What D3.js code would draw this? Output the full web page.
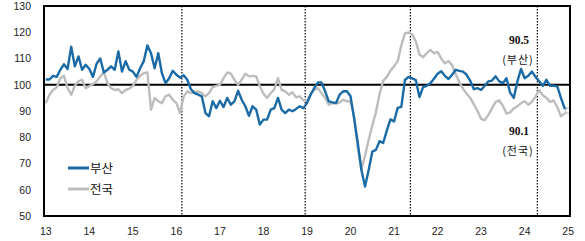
<!DOCTYPE html>
<html>
<head>
<meta charset="utf-8">
<script src="https://cdn.jsdelivr.net/npm/d3@7"></script>
<style>
  html, body { margin: 0; padding: 0; background: #fff; }
  svg { display: block; }
  .tick text { font-family: "Liberation Sans", Arial, sans-serif; font-size: 10.5px; fill: #222; }
  .legend-label, .note-label { font-family: "Noto Sans CJK KR", sans-serif; fill: #111; }
  .note-value { font-family: "Liberation Serif", serif; font-weight: bold; font-size: 11.5px; fill: #111; }
</style>
</head>
<body>
<svg id="chart" width="585" height="241"></svg>
<script>
// ===== DATA (monthly, 2013.01 ~ 2025.01) =====
const years = ["13", "14", "15", "16", "17", "18", "19", "20", "21", "22", "23", "24", "25"];
const yTicks = [50, 60, 70, 80, 90, 100, 110, 120, 130];

const busan = [
  102, 102, 103.4, 103, 105.7, 107.8, 106, 114.5, 107, 110.8, 105.7, 107.6,
  106, 103, 108, 110, 104.7, 105.7, 107, 105.7, 112.7, 105, 109, 105.7,
  105, 103, 106.3, 109, 115, 112, 106.3, 112, 104.4, 100.6, 102.5, 105.3,
  103.8, 102.7, 103.6, 101.9, 98.3, 96.8, 96.2, 95.6, 89.2, 88, 93.7, 91.1,
  93.9, 91.5, 95, 92.4, 93.7, 97.7, 94.3, 91.8, 88.2, 91.8, 90.5, 84.8,
  86.7, 86.7, 90.5, 91.1, 95, 90.5, 89.2, 90.5, 89.9, 90.8, 91.8, 91.1,
  93, 96.2, 98.7, 100.9, 100.9, 97.5, 93.7, 93.3, 93, 96.2, 97.5, 97.5,
  95.6, 87, 77.8, 67.5, 61.2, 67.5, 74.5, 75.2, 78.5, 77.8, 82.5, 86.8,
  86, 91.2, 91.6, 101.8, 103, 102.4, 101.8, 95.3, 99.1, 99.6, 100.6, 102.3,
  104.2, 105.1, 103.4, 102.2, 103.8, 105.7, 105.3, 105, 103.8, 101.5, 98.3, 98.7,
  98, 99.6, 101.3, 101.6, 103.2, 101.3, 100.6, 102.5, 97, 95, 101.3, 106,
  102.5, 103.4, 105, 103, 101.3, 99.6, 101.9, 99.6, 99.6, 99.4, 95, 91.1,
  90.5
];

const national = [
  93, 96.2, 98, 99, 102.5, 103.4, 98.7, 96.2, 99.6, 101.3, 101.9, 98.7,
  99.5, 100.3, 101.3, 103.2, 104.7, 100.6, 98.7, 98, 98.3, 96.8, 98, 98.5,
  99.6, 101.9, 103.4, 104.4, 104.7, 90.5, 95, 93.7, 93, 95.6, 96.2, 94.3,
  93, 89.2, 95.5, 97.5, 96.8, 97.1, 97.5, 96.8, 95.6, 96.8, 99.1, 99.6,
  100, 102.5, 104.7, 104.2, 101.9, 100, 101.9, 104.2, 103.2, 103.4, 103.2, 99.4,
  96.6, 95, 96.8, 98.3, 102.5, 98, 97.5, 96.2, 97.1, 95.2, 95.6, 94.1,
  94, 96.6, 98, 98.7, 96.8, 95, 92.4, 93, 92.8, 93.3, 94.3, 93.7,
  93.7, 88, 76, 67.7, 73, 79, 84.5, 89.5, 96.5, 101.5, 103, 105.3,
  107, 109, 115, 119.6, 119.9, 119.2, 116.5, 111.5, 110.5, 112, 113.3, 112,
  112.5, 110, 108.2, 109, 107.5, 104, 101, 98.5, 96.5, 95, 92.5, 90,
  87, 86.5, 88.5, 91, 93.5, 94, 92, 89, 89.5, 91, 91.8, 93,
  93.7, 92.4, 93.5, 95.5, 98, 96, 95, 93.5, 94, 91.5, 88, 89,
  90.1
];

// dotted reference months
const markers = ["16.03", "19.01", "21.06", "24.05"];

// category labels "YY.MM"
const categories = [];
years.forEach(yy => {
  for (let m = 1; m <= 12; m++) {
    if (categories.length < busan.length) categories.push(yy + "." + String(m).padStart(2, "0"));
  }
});

// ===== LAYOUT =====
const svg = d3.select("#chart");
const plot = { left: 44, right: 570, top: 6, bottom: 216 };

const x = d3.scaleBand().domain(categories).range([plot.left, plot.right]).padding(0);
const y = d3.scaleLinear().domain([50, 130]).range([plot.bottom, plot.top]);
const cx = d => x(d) + x.bandwidth() / 2;

// y axis labels
svg.append("g")
  .attr("transform", `translate(${plot.left},0)`)
  .call(d3.axisLeft(y).tickValues(yTicks).tickSize(0).tickPadding(13))
  .call(g => g.select(".domain").remove());

// x axis labels (January of each year)
svg.append("g")
  .attr("transform", `translate(0,${plot.bottom})`)
  .call(d3.axisBottom(x)
    .tickValues(categories.filter(c => c.endsWith(".01")))
    .tickFormat(c => c.slice(0, 2))
    .tickSize(0).tickPadding(12))
  .call(g => g.select(".domain").remove());

// dotted vertical lines
svg.append("g")
  .selectAll("line")
  .data(markers)
  .join("line")
  .attr("x1", d => x(d)).attr("x2", d => x(d))
  .attr("y1", plot.top).attr("y2", plot.bottom)
  .attr("stroke", "#000")
  .attr("stroke-width", 1.2)
  .attr("stroke-dasharray", "1.5,1.5");

// 100 baseline
svg.append("line")
  .attr("x1", plot.left).attr("x2", plot.right)
  .attr("y1", y(100)).attr("y2", y(100))
  .attr("stroke", "#000")
  .attr("stroke-width", 1.8);

// series lines
const line = d3.line()
  .x((d, i) => cx(categories[i]))
  .y(d => y(d));

svg.append("path")
  .datum(national)
  .attr("fill", "none")
  .attr("stroke", "#bdbdbd")
  .attr("stroke-width", 2.4)
  .attr("stroke-linejoin", "round")
  .attr("d", line);

svg.append("path")
  .datum(busan)
  .attr("fill", "none")
  .attr("stroke", "#1a6aa6")
  .attr("stroke-width", 2.4)
  .attr("stroke-linejoin", "round")
  .attr("d", line);

// last point marker
const last = categories.length - 1;
svg.append("circle")
  .attr("cx", cx(categories[last]))
  .attr("cy", y(national[last]))
  .attr("r", 2.6)
  .attr("fill", "#fff")
  .attr("stroke", "#c8c8c8")
  .attr("stroke-width", 1.2);

// frame
svg.append("rect")
  .attr("x", plot.left).attr("y", plot.top)
  .attr("width", plot.right - plot.left).attr("height", plot.bottom - plot.top)
  .attr("fill", "none")
  .attr("stroke", "#000")
  .attr("stroke-width", 2);

// legend
const legend = [
  { name: "부산", color: "#1a6aa6", y: 168 },
  { name: "전국", color: "#bdbdbd", y: 189 }
];
const lg = svg.append("g").selectAll("g").data(legend).join("g");
lg.append("line")
  .attr("x1", 68).attr("x2", 89)
  .attr("y1", d => d.y).attr("y2", d => d.y)
  .attr("stroke", d => d.color)
  .attr("stroke-width", 3);
lg.append("text")
  .attr("class", "legend-label")
  .attr("x", 90).attr("y", d => d.y + 4.5)
  .attr("font-size", 12.5)
  .text(d => d.name);

// end annotations
const notes = [
  { value: "90.5", label: "(부산)", y: 40 },
  { value: "90.1", label: "(전국)", y: 131 }
];
const ng = svg.append("g").selectAll("g").data(notes).join("g");
ng.append("text")
  .attr("class", "note-value")
  .attr("x", 519).attr("y", d => d.y + 4)
  .attr("text-anchor", "middle")
  .text(d => d.value);
ng.append("text")
  .attr("class", "note-label")
  .attr("x", 518).attr("y", d => d.y + 24)
  .attr("text-anchor", "middle")
  .attr("font-size", 11)
  .attr("letter-spacing", 1)
  .text(d => d.label);
</script>
</body>
</html>
